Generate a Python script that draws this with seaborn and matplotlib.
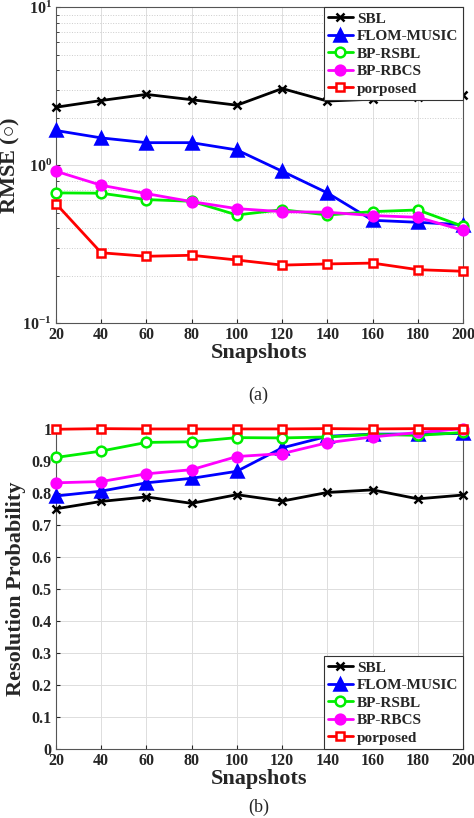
import numpy as np
import pandas as pd
import matplotlib
matplotlib.use("Agg")
import matplotlib.pyplot as plt
import seaborn as sns

# dati
snapshots = [20, 40, 60, 80, 100, 120, 140, 160, 180, 200]
methods = ["SBL", "FLOM-MUSIC", "BP-RSBL", "BP-RBCS", "porposed"]

# (a) RMSE
rmse_sbl = [2.33, 2.57, 2.81, 2.60, 2.40, 3.06, 2.55, 2.62, 2.70, 2.78]
rmse_flom = [1.66, 1.49, 1.39, 1.39, 1.25, 0.916, 0.668, 0.448, 0.435, 0.42]
rmse_rsbl = [0.668, 0.665, 0.606, 0.591, 0.484, 0.523, 0.484, 0.508, 0.521, 0.41]
rmse_rbcs = [0.916, 0.747, 0.661, 0.588, 0.531, 0.508, 0.504, 0.480, 0.468, 0.387]
rmse_prop = [0.571, 0.279, 0.265, 0.269, 0.251, 0.233, 0.237, 0.240, 0.218, 0.213]

# (b) probabilita' di risoluzione
prob_sbl = [0.750, 0.773, 0.787, 0.767, 0.794, 0.774, 0.801, 0.809, 0.781, 0.793]
prob_flom = [0.790, 0.805, 0.831, 0.845, 0.867, 0.940, 0.976, 0.983, 0.983, 0.985]
prob_rsbl = [0.910, 0.930, 0.957, 0.959, 0.972, 0.971, 0.974, 0.982, 0.979, 0.988]
prob_rbcs = [0.831, 0.835, 0.859, 0.872, 0.913, 0.922, 0.956, 0.974, 0.988, 1.0]
prob_prop = [0.998, 1.0, 0.999, 0.999, 0.999, 0.999, 1.0, 0.999, 1.0, 1.0]

colors = ["black", "blue", "#00ee00", "magenta", "red"]
markers = ["x", "^", "o", "o", "s"]
faces = ["black", "blue", "white", "magenta", "white"]
sizes = [6, 8, 7, 7, 6]

sns.set_style("ticks")
plt.rcParams["font.family"] = ["Liberation Serif", "DejaVu Serif"]
plt.rcParams["font.weight"] = "bold"
plt.rcParams["mathtext.fontset"] = "custom"
plt.rcParams["mathtext.rm"] = "Liberation Serif:bold"
plt.rcParams["mathtext.bf"] = "Liberation Serif:bold"
plt.rcParams["mathtext.default"] = "bf"

fig = plt.figure(figsize=(4.74, 8.18), dpi=100)
ax1 = fig.add_axes([0.118, 0.605, 0.859, 0.386])
ax2 = fig.add_axes([0.118, 0.084, 0.859, 0.392])


def draw(ax, series):
    for vals, name, c, m, fc, ms in zip(series, methods, colors, markers, faces, sizes):
        sns.lineplot(x=snapshots, y=vals, ax=ax, color=c, marker=m, markersize=ms,
                     markerfacecolor=fc, markeredgecolor=c, markeredgewidth=1.8,
                     linewidth=2, label=name, zorder=3, clip_on=False)
    ax.set_xlim(20, 200)
    ax.set_xticks(snapshots)
    ax.tick_params(direction="in", labelsize=11.5, width=0.8, length=3, pad=3)
    for lab in ax.get_xticklabels() + ax.get_yticklabels():
        lab.set_fontweight("bold")
    ax.set_xlabel("Snapshots", fontsize=16, fontweight="bold", labelpad=0)
    for s in ax.spines.values():
        s.set_color("#555555")
        s.set_linewidth(0.8)


def legenda(ax, loc):
    leg = ax.legend(loc=loc, fontsize=11, frameon=True, fancybox=False, framealpha=1,
                    handlelength=1.6, handletextpad=0.3, borderpad=0.3, labelspacing=0.25,
                    borderaxespad=0.0)
    leg.get_frame().set_edgecolor("#333333")
    leg.get_frame().set_linewidth(0.8)
    leg.set_zorder(5)


draw(ax1, [rmse_sbl, rmse_flom, rmse_rsbl, rmse_rbcs, rmse_prop])
ax1.set_yscale("log")
ax1.set_ylim(0.1, 10)
ax1.grid(True, which="major", color="#dddddd", linewidth=0.7)
ax1.grid(True, which="minor", axis="y", color="#cccccc", linestyle=":", linewidth=0.7)
ax1.set_ylabel("RMSE ($\\circ$)", fontsize=16, fontweight="bold")
ax1.yaxis.set_label_coords(-0.083, 0.5)
ax1.tick_params(which="minor", direction="in", length=2)
legenda(ax1, "upper right")

draw(ax2, [prob_sbl, prob_flom, prob_rsbl, prob_rbcs, prob_prop])
ax2.set_ylim(0, 1)
ax2.set_yticks(np.arange(0, 1.01, 0.1))
ax2.set_yticklabels(["0", "0.1", "0.2", "0.3", "0.4", "0.5", "0.6", "0.7", "0.8", "0.9", "1"])
for lab in ax2.get_yticklabels():
    lab.set_fontweight("bold")
ax2.grid(True, color="#dddddd", linewidth=0.7)
ax2.spines["top"].set_visible(False)
ax2.set_ylabel("Resolution Probability", fontsize=16, fontweight="bold")
ax2.yaxis.set_label_coords(-0.074, 0.5)
legenda(ax2, "lower right")

fig.text(0.545, 0.517, "(a)", ha="center", va="center", fontsize=13, fontweight="normal")
fig.text(0.545, 0.013, "(b)", ha="center", va="center", fontsize=13, fontweight="normal")

fig.savefig("out.png", dpi=100)
